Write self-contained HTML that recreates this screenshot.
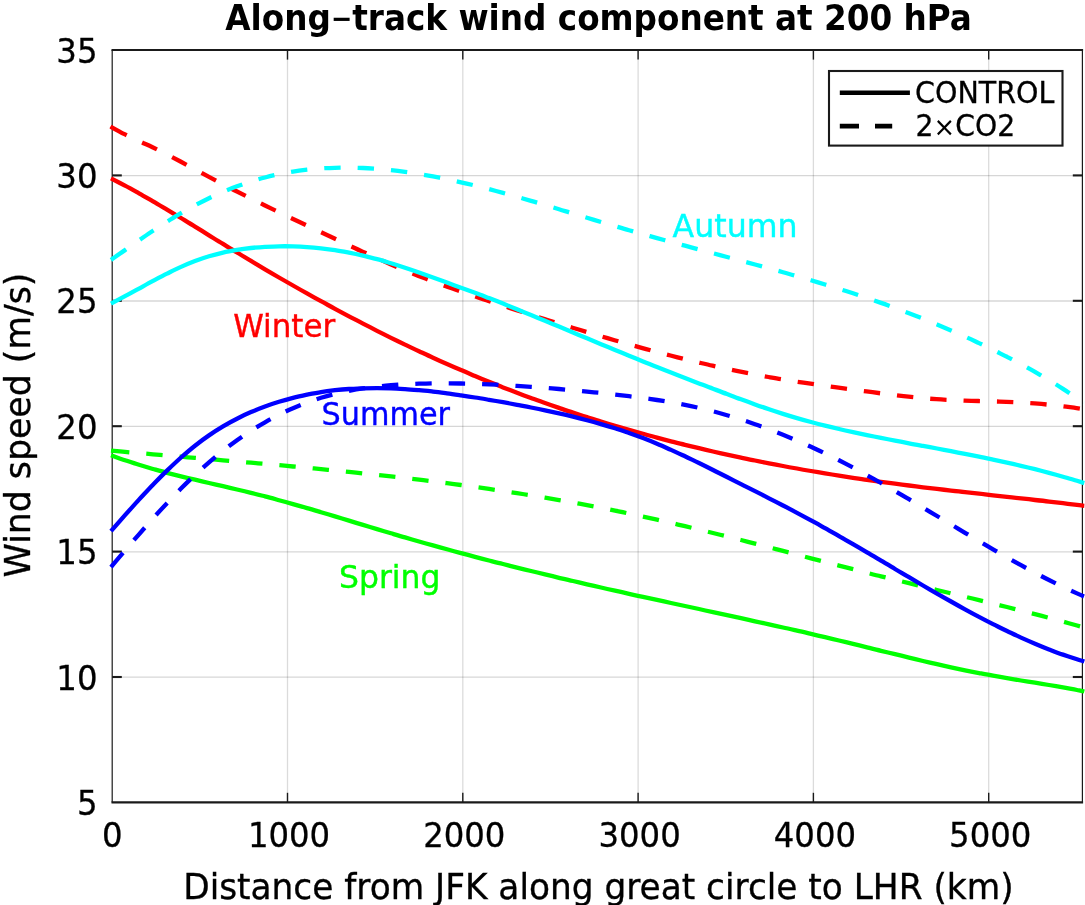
<!DOCTYPE html>
<html lang="en"><head><meta charset="utf-8"><title>Along-track wind component at 200 hPa</title>
<style>
html,body{margin:0;padding:0;background:#fff;}
body{width:1085px;height:905px;overflow:hidden;}
svg{display:block;}
text{font-family:"DejaVu Sans","Liberation Sans",sans-serif;}
.cond{font-family:"DejaVu Sans Condensed","DejaVu Sans","Liberation Sans",sans-serif;font-stretch:condensed;}
.tick{font-size:34px;fill:#000;stroke:#000;stroke-width:0.3;}
.lab{font-size:36.3px;fill:#000;stroke:#000;stroke-width:0.35;}
.ttl{font-size:35.9px;font-weight:bold;fill:#000;}
.leg{font-size:29.5px;fill:#000;stroke:#000;stroke-width:0.3;}
.sea{font-size:32px;stroke-width:0.4;}
.grid line{stroke:#000;stroke-width:1.3;}
.grid .v{stroke-opacity:0.14;}
.grid .h{stroke-opacity:0.16;}
.ax line{stroke:#1a1a1a;}
.crv path{fill:none;stroke-width:4.3;stroke-linejoin:round;}
.dash{stroke-dasharray:18.4 17.0 16.4 17.0 16.4 17.0 16.4 17.0 16.4 17.0 16.4 17.0 16.4 17.0 16.4 17.0 16.4 17.0 16.4 17.0 16.4 17.0 16.4 17.0 16.4 17.0 16.4 17.0 16.4 17.0 16.4 17.0 16.4 17.0 16.4 17.0 16.4 17.0 16.4 17.0 16.4 17.0 16.4 17.0 16.4 17.0 16.4 17.0 16.4 17.0 16.4 17.0 16.4 17.0 16.4 17.0 16.4 17.0 16.4 17.0 16.4 17.0 16.4 17.0 16.4 17.0 16.4 17.0 16.4 17.0 16.4 17.0 16.4 17.0 16.4 17.0 16.4 17.0 16.4 17.0 16.4 17.0 16.4 17.0 16.4 17.0 16.4 17.0 16.4 17.0 16.4 17.0;}
</style></head><body>
<svg width="1085" height="905" viewBox="0 0 1085 905">
<rect x="0" y="0" width="1085" height="905" fill="#fff"/>
<g class="grid">
<line class="v" x1="287.5" y1="50.0" x2="287.5" y2="802.4"/>
<line class="v" x1="462.8" y1="50.0" x2="462.8" y2="802.4"/>
<line class="v" x1="638.1" y1="50.0" x2="638.1" y2="802.4"/>
<line class="v" x1="813.4" y1="50.0" x2="813.4" y2="802.4"/>
<line class="v" x1="988.7" y1="50.0" x2="988.7" y2="802.4"/>
<line class="h" x1="112.2" y1="175.6" x2="1082.4" y2="175.6"/>
<line class="h" x1="112.2" y1="301.0" x2="1082.4" y2="301.0"/>
<line class="h" x1="112.2" y1="426.4" x2="1082.4" y2="426.4"/>
<line class="h" x1="112.2" y1="551.8" x2="1082.4" y2="551.8"/>
<line class="h" x1="112.2" y1="677.2" x2="1082.4" y2="677.2"/>
</g>
<g class="ax">
<line x1="111.5" y1="50.0" x2="1083.1" y2="50.0" stroke-width="2.1"/>
<line x1="111.5" y1="802.4" x2="1083.1" y2="802.4" stroke-width="2.1"/>
<line x1="112.2" y1="50.0" x2="112.2" y2="802.4" stroke-width="1.2" stroke="#404040"/>
<line x1="1082.4" y1="50.0" x2="1082.4" y2="802.4" stroke-width="1.2" stroke="#404040"/>
<line x1="287.5" y1="802.4" x2="287.5" y2="792.8" stroke-width="1.4"/>
<line x1="287.5" y1="50.0" x2="287.5" y2="59.6" stroke-width="1.4"/>
<line x1="462.8" y1="802.4" x2="462.8" y2="792.8" stroke-width="1.4"/>
<line x1="462.8" y1="50.0" x2="462.8" y2="59.6" stroke-width="1.4"/>
<line x1="638.1" y1="802.4" x2="638.1" y2="792.8" stroke-width="1.4"/>
<line x1="638.1" y1="50.0" x2="638.1" y2="59.6" stroke-width="1.4"/>
<line x1="813.4" y1="802.4" x2="813.4" y2="792.8" stroke-width="1.4"/>
<line x1="813.4" y1="50.0" x2="813.4" y2="59.6" stroke-width="1.4"/>
<line x1="988.7" y1="802.4" x2="988.7" y2="792.8" stroke-width="1.4"/>
<line x1="988.7" y1="50.0" x2="988.7" y2="59.6" stroke-width="1.4"/>
<line x1="112.2" y1="175.4" x2="121.8" y2="175.4" stroke-width="2.1"/>
<line x1="1082.4" y1="175.4" x2="1072.8" y2="175.4" stroke-width="2.1"/>
<line x1="112.2" y1="300.8" x2="121.8" y2="300.8" stroke-width="2.1"/>
<line x1="1082.4" y1="300.8" x2="1072.8" y2="300.8" stroke-width="2.1"/>
<line x1="112.2" y1="426.2" x2="121.8" y2="426.2" stroke-width="2.1"/>
<line x1="1082.4" y1="426.2" x2="1072.8" y2="426.2" stroke-width="2.1"/>
<line x1="112.2" y1="551.6" x2="121.8" y2="551.6" stroke-width="2.1"/>
<line x1="1082.4" y1="551.6" x2="1072.8" y2="551.6" stroke-width="2.1"/>
<line x1="112.2" y1="677.0" x2="121.8" y2="677.0" stroke-width="2.1"/>
<line x1="1082.4" y1="677.0" x2="1072.8" y2="677.0" stroke-width="2.1"/>
</g>
<g class="crv">
<path d="M111.0 178.4C113.3 179.6 120.3 183.2 125.0 185.7C129.7 188.1 134.3 190.7 139.0 193.3C143.7 195.9 148.3 198.6 153.0 201.3C157.7 204.0 162.3 206.8 167.0 209.6C171.7 212.4 176.3 215.2 181.0 218.0C185.7 220.9 190.3 223.8 195.0 226.6C199.7 229.5 204.3 232.4 209.0 235.3C213.7 238.2 218.3 241.1 223.0 243.9C227.7 246.8 232.3 249.7 237.0 252.5C241.7 255.3 246.3 258.2 251.0 260.9C255.7 263.7 260.3 266.5 265.0 269.3C269.7 272.0 274.3 274.7 279.0 277.5C283.7 280.2 288.3 282.8 293.0 285.5C297.7 288.2 302.3 290.8 307.0 293.4C311.7 296.0 316.3 298.6 321.0 301.2C325.7 303.7 330.3 306.3 335.0 308.8C339.7 311.3 344.3 313.8 349.0 316.3C353.7 318.7 358.3 321.2 363.0 323.6C367.7 326.0 372.3 328.4 377.0 330.8C381.7 333.1 386.3 335.4 391.0 337.8C395.7 340.1 400.3 342.3 405.0 344.6C409.7 346.8 414.3 349.1 419.0 351.2C423.7 353.4 428.3 355.6 433.0 357.7C437.7 359.9 442.3 362.0 447.0 364.0C451.7 366.1 456.3 368.1 461.0 370.1C465.7 372.2 470.3 374.1 475.0 376.1C479.7 378.0 484.3 379.9 489.0 381.8C493.7 383.7 498.3 385.6 503.0 387.4C507.7 389.2 512.3 391.0 517.0 392.8C521.7 394.5 526.3 396.3 531.0 398.0C535.7 399.7 540.3 401.4 545.0 403.0C549.7 404.7 554.3 406.3 559.0 407.9C563.7 409.5 568.3 411.1 573.0 412.6C577.7 414.1 582.3 415.7 587.0 417.1C591.7 418.6 596.3 420.1 601.0 421.5C605.7 423.0 610.3 424.4 615.0 425.8C619.7 427.2 624.3 428.5 629.0 429.9C633.7 431.2 638.3 432.5 643.0 433.8C647.7 435.1 652.3 436.4 657.0 437.6C661.7 438.9 666.3 440.1 671.0 441.3C675.7 442.5 680.3 443.7 685.0 444.8C689.7 446.0 694.3 447.1 699.0 448.2C703.7 449.3 708.3 450.4 713.0 451.5C717.7 452.5 722.3 453.6 727.0 454.6C731.7 455.6 736.3 456.6 741.0 457.6C745.7 458.6 750.3 459.6 755.0 460.5C759.7 461.5 764.3 462.4 769.0 463.3C773.7 464.2 778.3 465.1 783.0 466.0C787.7 466.9 792.3 467.7 797.0 468.5C801.7 469.4 806.3 470.2 811.0 471.0C815.7 471.8 820.3 472.6 825.0 473.4C829.7 474.1 834.3 474.9 839.0 475.6C843.7 476.4 848.3 477.1 853.0 477.8C857.7 478.5 862.3 479.2 867.0 479.8C871.7 480.5 876.3 481.2 881.0 481.8C885.7 482.5 890.3 483.1 895.0 483.7C899.7 484.3 904.3 484.9 909.0 485.5C913.7 486.1 918.3 486.7 923.0 487.3C927.7 487.8 932.3 488.4 937.0 488.9C941.7 489.5 946.3 490.0 951.0 490.6C955.7 491.1 960.3 491.6 965.0 492.2C969.7 492.7 974.3 493.2 979.0 493.7C983.7 494.3 988.3 494.8 993.0 495.3C997.7 495.8 1002.3 496.3 1007.0 496.8C1011.7 497.4 1016.3 497.9 1021.0 498.4C1025.7 498.9 1030.3 499.4 1035.0 500.0C1039.7 500.5 1044.3 501.0 1049.0 501.6C1053.7 502.1 1058.3 502.7 1063.0 503.2C1067.7 503.8 1073.5 504.5 1077.0 504.9C1080.5 505.4 1083.1 505.7 1084.3 505.8" stroke="#ff0000"/>
<path d="M110.5 126.5C112.8 127.8 119.8 131.8 124.5 134.2C129.2 136.6 133.8 138.6 138.5 140.8C143.2 143.0 147.8 145.0 152.5 147.2C157.2 149.5 161.8 151.8 166.5 154.2C171.2 156.6 175.8 159.0 180.5 161.5C185.2 164.0 189.8 166.6 194.5 169.1C199.2 171.6 203.8 174.2 208.5 176.6C213.2 179.1 217.8 181.6 222.5 184.0C227.2 186.5 231.8 188.9 236.5 191.2C241.2 193.6 245.8 196.0 250.5 198.3C255.2 200.6 259.8 202.9 264.5 205.2C269.2 207.5 273.8 209.7 278.5 212.0C283.2 214.2 287.8 216.5 292.5 218.7C297.2 220.9 301.8 223.1 306.5 225.3C311.2 227.6 315.8 229.8 320.5 232.0C325.2 234.2 329.8 236.3 334.5 238.5C339.2 240.7 343.8 242.9 348.5 245.1C353.2 247.3 357.8 249.5 362.5 251.6C367.2 253.7 371.8 255.9 376.5 258.0C381.2 260.1 385.8 262.1 390.5 264.2C395.2 266.2 399.8 268.2 404.5 270.2C409.2 272.1 413.8 274.0 418.5 275.9C423.2 277.7 427.8 279.5 432.5 281.3C437.2 283.0 441.8 284.8 446.5 286.4C451.2 288.1 455.8 289.8 460.5 291.4C465.2 293.0 469.8 294.6 474.5 296.2C479.2 297.8 483.8 299.4 488.5 300.9C493.2 302.5 497.8 304.0 502.5 305.6C507.2 307.1 511.8 308.6 516.5 310.1C521.2 311.6 525.8 313.1 530.5 314.6C535.2 316.1 539.8 317.6 544.5 319.1C549.2 320.5 553.8 322.0 558.5 323.4C563.2 324.9 567.8 326.3 572.5 327.7C577.2 329.1 581.8 330.5 586.5 331.9C591.2 333.3 595.8 334.7 600.5 336.1C605.2 337.5 609.8 338.8 614.5 340.2C619.2 341.5 623.8 342.8 628.5 344.2C633.2 345.5 637.8 346.8 642.5 348.1C647.2 349.3 651.8 350.6 656.5 351.9C661.2 353.1 665.8 354.3 670.5 355.5C675.2 356.7 679.8 357.9 684.5 359.1C689.2 360.3 693.8 361.4 698.5 362.5C703.2 363.6 707.8 364.7 712.5 365.7C717.2 366.8 721.8 367.8 726.5 368.8C731.2 369.8 735.8 370.8 740.5 371.7C745.2 372.7 749.8 373.6 754.5 374.4C759.2 375.3 763.8 376.1 768.5 377.0C773.2 377.8 777.8 378.6 782.5 379.3C787.2 380.1 791.8 380.9 796.5 381.6C801.2 382.3 805.8 383.0 810.5 383.7C815.2 384.4 819.8 385.1 824.5 385.7C829.2 386.4 833.8 387.1 838.5 387.7C843.2 388.3 847.8 389.0 852.5 389.6C857.2 390.2 861.8 390.8 866.5 391.4C871.2 392.1 875.8 392.7 880.5 393.3C885.2 393.9 889.8 394.5 894.5 395.0C899.2 395.6 903.8 396.2 908.5 396.7C913.2 397.2 917.8 397.7 922.5 398.1C927.2 398.5 931.8 398.9 936.5 399.2C941.2 399.6 945.8 399.8 950.5 400.0C955.2 400.3 959.8 400.4 964.5 400.6C969.2 400.7 973.8 400.9 978.5 401.0C983.2 401.1 987.8 401.2 992.5 401.4C997.2 401.5 1001.8 401.7 1006.5 401.8C1011.2 402.0 1015.8 402.3 1020.5 402.5C1025.2 402.8 1029.8 403.1 1034.5 403.4C1039.2 403.8 1043.8 404.2 1048.5 404.7C1053.2 405.1 1057.8 405.6 1062.5 406.2C1067.2 406.8 1073.2 407.7 1076.5 408.1C1079.8 408.6 1081.1 408.8 1082.0 409.0" stroke="#ff0000" class="dash"/>
<path d="M111.0 455.2C113.3 456.0 120.3 458.6 125.0 460.2C129.7 461.8 134.3 463.4 139.0 464.8C143.7 466.3 148.3 467.6 153.0 469.0C157.7 470.3 162.3 471.6 167.0 472.8C171.7 474.0 176.3 475.2 181.0 476.4C185.7 477.5 190.3 478.6 195.0 479.7C199.7 480.8 204.3 481.9 209.0 483.0C213.7 484.1 218.3 485.1 223.0 486.2C227.7 487.3 232.3 488.4 237.0 489.5C241.7 490.6 246.3 491.7 251.0 492.9C255.7 494.0 260.3 495.2 265.0 496.4C269.7 497.6 274.3 498.9 279.0 500.2C283.7 501.4 288.3 502.7 293.0 504.1C297.7 505.4 302.3 506.7 307.0 508.1C311.7 509.4 316.3 510.8 321.0 512.2C325.7 513.6 330.3 515.0 335.0 516.4C339.7 517.8 344.3 519.2 349.0 520.6C353.7 522.1 358.3 523.5 363.0 524.9C367.7 526.3 372.3 527.7 377.0 529.1C381.7 530.5 386.3 531.9 391.0 533.3C395.7 534.7 400.3 536.1 405.0 537.4C409.7 538.8 414.3 540.1 419.0 541.5C423.7 542.8 428.3 544.1 433.0 545.4C437.7 546.7 442.3 548.0 447.0 549.3C451.7 550.6 456.3 551.8 461.0 553.1C465.7 554.3 470.3 555.6 475.0 556.8C479.7 558.0 484.3 559.2 489.0 560.5C493.7 561.7 498.3 562.9 503.0 564.0C507.7 565.2 512.3 566.4 517.0 567.6C521.7 568.7 526.3 569.9 531.0 571.0C535.7 572.2 540.3 573.3 545.0 574.4C549.7 575.5 554.3 576.6 559.0 577.8C563.7 578.9 568.3 580.0 573.0 581.0C577.7 582.1 582.3 583.2 587.0 584.3C591.7 585.4 596.3 586.4 601.0 587.5C605.7 588.6 610.3 589.6 615.0 590.6C619.7 591.7 624.3 592.7 629.0 593.8C633.7 594.8 638.3 595.8 643.0 596.9C647.7 597.9 652.3 598.9 657.0 599.9C661.7 600.9 666.3 602.0 671.0 603.0C675.7 604.0 680.3 605.0 685.0 606.0C689.7 607.0 694.3 608.0 699.0 609.0C703.7 610.1 708.3 611.1 713.0 612.1C717.7 613.1 722.3 614.1 727.0 615.1C731.7 616.1 736.3 617.2 741.0 618.2C745.7 619.2 750.3 620.2 755.0 621.3C759.7 622.3 764.3 623.3 769.0 624.4C773.7 625.4 778.3 626.4 783.0 627.5C787.7 628.5 792.3 629.6 797.0 630.7C801.7 631.7 806.3 632.8 811.0 633.9C815.7 635.0 820.3 636.1 825.0 637.2C829.7 638.3 834.3 639.4 839.0 640.5C843.7 641.6 848.3 642.8 853.0 643.9C857.7 645.1 862.3 646.2 867.0 647.3C871.7 648.5 876.3 649.7 881.0 650.8C885.7 651.9 890.3 653.1 895.0 654.2C899.7 655.4 904.3 656.5 909.0 657.6C913.7 658.8 918.3 659.9 923.0 661.0C927.7 662.1 932.3 663.1 937.0 664.2C941.7 665.3 946.3 666.3 951.0 667.3C955.7 668.3 960.3 669.3 965.0 670.3C969.7 671.3 974.3 672.2 979.0 673.1C983.7 674.0 988.3 674.9 993.0 675.7C997.7 676.6 1002.3 677.4 1007.0 678.1C1011.7 678.9 1016.3 679.7 1021.0 680.5C1025.7 681.2 1030.3 682.0 1035.0 682.7C1039.7 683.5 1044.3 684.2 1049.0 685.0C1053.7 685.8 1058.3 686.6 1063.0 687.4C1067.7 688.3 1073.5 689.3 1077.0 690.0C1080.5 690.7 1083.1 691.2 1084.3 691.5" stroke="#00ff00"/>
<path d="M111.0 450.7C113.3 450.9 120.3 451.5 125.0 451.9C129.7 452.3 134.3 452.7 139.0 453.1C143.7 453.5 148.3 453.9 153.0 454.3C157.7 454.7 162.3 455.1 167.0 455.5C171.7 455.9 176.3 456.3 181.0 456.7C185.7 457.1 190.3 457.5 195.0 457.9C199.7 458.3 204.3 458.7 209.0 459.1C213.7 459.5 218.3 459.9 223.0 460.3C227.7 460.7 232.3 461.1 237.0 461.5C241.7 461.9 246.3 462.3 251.0 462.7C255.7 463.1 260.3 463.5 265.0 463.9C269.7 464.4 274.3 464.8 279.0 465.2C283.7 465.6 288.3 466.0 293.0 466.5C297.7 466.9 302.3 467.3 307.0 467.8C311.7 468.2 316.3 468.7 321.0 469.1C325.7 469.6 330.3 470.0 335.0 470.5C339.7 471.0 344.3 471.4 349.0 471.9C353.7 472.4 358.3 472.9 363.0 473.4C367.7 473.9 372.3 474.4 377.0 474.9C381.7 475.4 386.3 475.9 391.0 476.4C395.7 476.9 400.3 477.5 405.0 478.0C409.7 478.6 414.3 479.1 419.0 479.7C423.7 480.2 428.3 480.8 433.0 481.4C437.7 482.0 442.3 482.6 447.0 483.2C451.7 483.8 456.3 484.4 461.0 485.0C465.7 485.6 470.3 486.3 475.0 486.9C479.7 487.6 484.3 488.2 489.0 488.9C493.7 489.6 498.3 490.3 503.0 491.0C507.7 491.7 512.3 492.4 517.0 493.1C521.7 493.9 526.3 494.6 531.0 495.4C535.7 496.1 540.3 496.9 545.0 497.7C549.7 498.5 554.3 499.3 559.0 500.1C563.7 500.9 568.3 501.7 573.0 502.6C577.7 503.4 582.3 504.3 587.0 505.2C591.7 506.1 596.3 507.0 601.0 507.9C605.7 508.8 610.3 509.7 615.0 510.7C619.7 511.6 624.3 512.6 629.0 513.6C633.7 514.6 638.3 515.6 643.0 516.6C647.7 517.6 652.3 518.7 657.0 519.7C661.7 520.8 666.3 521.9 671.0 522.9C675.7 524.0 680.3 525.1 685.0 526.2C689.7 527.3 694.3 528.5 699.0 529.6C703.7 530.7 708.3 531.9 713.0 533.0C717.7 534.2 722.3 535.3 727.0 536.5C731.7 537.7 736.3 538.9 741.0 540.0C745.7 541.2 750.3 542.4 755.0 543.6C759.7 544.8 764.3 546.1 769.0 547.3C773.7 548.5 778.3 549.7 783.0 550.9C787.7 552.1 792.3 553.4 797.0 554.6C801.7 555.8 806.3 557.1 811.0 558.3C815.7 559.5 820.3 560.7 825.0 561.9C829.7 563.2 834.3 564.4 839.0 565.6C843.7 566.8 848.3 568.0 853.0 569.2C857.7 570.4 862.3 571.6 867.0 572.8C871.7 574.0 876.3 575.2 881.0 576.3C885.7 577.5 890.3 578.6 895.0 579.8C899.7 580.9 904.3 582.1 909.0 583.2C913.7 584.4 918.3 585.5 923.0 586.6C927.7 587.7 932.3 588.9 937.0 590.0C941.7 591.1 946.3 592.2 951.0 593.4C955.7 594.5 960.3 595.6 965.0 596.7C969.7 597.9 974.3 599.0 979.0 600.1C983.7 601.3 988.3 602.4 993.0 603.6C997.7 604.7 1002.3 605.9 1007.0 607.0C1011.7 608.2 1016.3 609.4 1021.0 610.6C1025.7 611.8 1030.3 613.0 1035.0 614.2C1039.7 615.4 1044.3 616.6 1049.0 617.9C1053.7 619.1 1058.3 620.4 1063.0 621.6C1067.7 622.9 1073.8 624.6 1077.0 625.5C1080.2 626.4 1081.2 626.7 1082.0 627.0" stroke="#00ff00" class="dash"/>
<path d="M111.0 531.2C113.3 528.5 120.3 520.5 125.0 515.2C129.7 510.0 134.3 504.7 139.0 499.6C143.7 494.6 148.3 489.5 153.0 484.7C157.7 479.9 162.3 475.1 167.0 470.6C171.7 466.1 176.3 461.7 181.0 457.5C185.7 453.4 190.3 449.4 195.0 445.7C199.7 442.0 204.3 438.6 209.0 435.4C213.7 432.1 218.3 429.2 223.0 426.4C227.7 423.6 232.3 421.0 237.0 418.7C241.7 416.3 246.3 414.1 251.0 412.1C255.7 410.0 260.3 408.2 265.0 406.5C269.7 404.8 274.3 403.2 279.0 401.8C283.7 400.3 288.3 399.0 293.0 397.8C297.7 396.6 302.3 395.6 307.0 394.6C311.7 393.7 316.3 392.8 321.0 392.1C325.7 391.4 330.3 390.8 335.0 390.2C339.7 389.7 344.3 389.3 349.0 389.0C353.7 388.7 358.3 388.4 363.0 388.3C367.7 388.1 372.3 388.1 377.0 388.1C381.7 388.1 386.3 388.2 391.0 388.4C395.7 388.5 400.3 388.8 405.0 389.1C409.7 389.4 414.3 389.8 419.0 390.2C423.7 390.6 428.3 391.1 433.0 391.6C437.7 392.1 442.3 392.7 447.0 393.3C451.7 393.9 456.3 394.6 461.0 395.3C465.7 396.0 470.3 396.7 475.0 397.5C479.7 398.2 484.3 399.0 489.0 399.8C493.7 400.6 498.3 401.4 503.0 402.2C507.7 403.1 512.3 403.9 517.0 404.8C521.7 405.7 526.3 406.5 531.0 407.5C535.7 408.4 540.3 409.3 545.0 410.3C549.7 411.3 554.3 412.3 559.0 413.3C563.7 414.4 568.3 415.5 573.0 416.6C577.7 417.7 582.3 418.9 587.0 420.2C591.7 421.4 596.3 422.7 601.0 424.1C605.7 425.4 610.3 426.8 615.0 428.3C619.7 429.8 624.3 431.4 629.0 433.0C633.7 434.7 638.3 436.4 643.0 438.1C647.7 439.9 652.3 441.8 657.0 443.8C661.7 445.7 666.3 447.8 671.0 449.9C675.7 451.9 680.3 454.1 685.0 456.3C689.7 458.5 694.3 460.8 699.0 463.0C703.7 465.3 708.3 467.6 713.0 470.0C717.7 472.3 722.3 474.7 727.0 477.0C731.7 479.4 736.3 481.7 741.0 484.1C745.7 486.4 750.3 488.8 755.0 491.1C759.7 493.5 764.3 495.9 769.0 498.3C773.7 500.7 778.3 503.1 783.0 505.5C787.7 507.9 792.3 510.4 797.0 512.8C801.7 515.3 806.3 517.8 811.0 520.4C815.7 522.9 820.3 525.5 825.0 528.1C829.7 530.7 834.3 533.4 839.0 536.1C843.7 538.7 848.3 541.5 853.0 544.2C857.7 546.9 862.3 549.6 867.0 552.4C871.7 555.1 876.3 557.9 881.0 560.7C885.7 563.4 890.3 566.2 895.0 569.0C899.7 571.7 904.3 574.5 909.0 577.2C913.7 580.0 918.3 582.7 923.0 585.5C927.7 588.2 932.3 590.9 937.0 593.6C941.7 596.3 946.3 598.9 951.0 601.5C955.7 604.2 960.3 606.8 965.0 609.3C969.7 611.9 974.3 614.4 979.0 616.8C983.7 619.3 988.3 621.7 993.0 624.1C997.7 626.4 1002.3 628.8 1007.0 631.0C1011.7 633.3 1016.3 635.4 1021.0 637.6C1025.7 639.7 1030.3 641.7 1035.0 643.7C1039.7 645.7 1044.3 647.6 1049.0 649.4C1053.7 651.2 1058.3 653.0 1063.0 654.6C1067.7 656.2 1073.5 658.1 1077.0 659.3C1080.5 660.4 1083.1 661.1 1084.3 661.5" stroke="#0000ff"/>
<path d="M111.0 567.1C113.3 564.3 120.3 556.0 125.0 550.6C129.7 545.1 134.3 539.7 139.0 534.3C143.7 528.9 148.3 523.6 153.0 518.4C157.7 513.2 162.3 508.1 167.0 503.2C171.7 498.2 176.3 493.3 181.0 488.6C185.7 483.9 190.3 479.4 195.0 475.0C199.7 470.6 204.3 466.4 209.0 462.3C213.7 458.3 218.3 454.4 223.0 450.7C227.7 447.1 232.3 443.6 237.0 440.2C241.7 436.9 246.3 433.7 251.0 430.7C255.7 427.8 260.3 424.9 265.0 422.3C269.7 419.6 274.3 417.1 279.0 414.8C283.7 412.4 288.3 410.2 293.0 408.2C297.7 406.2 302.3 404.3 307.0 402.6C311.7 400.8 316.3 399.3 321.0 397.8C325.7 396.4 330.3 395.1 335.0 393.9C339.7 392.7 344.3 391.7 349.0 390.8C353.7 389.9 358.3 389.1 363.0 388.4C367.7 387.7 372.3 387.1 377.0 386.6C381.7 386.0 386.3 385.6 391.0 385.2C395.7 384.9 400.3 384.6 405.0 384.3C409.7 384.1 414.3 383.9 419.0 383.7C423.7 383.6 428.3 383.5 433.0 383.4C437.7 383.3 442.3 383.3 447.0 383.3C451.7 383.3 456.3 383.4 461.0 383.5C465.7 383.5 470.3 383.7 475.0 383.8C479.7 384.0 484.3 384.1 489.0 384.3C493.7 384.5 498.3 384.8 503.0 385.0C507.7 385.3 512.3 385.6 517.0 385.9C521.7 386.2 526.3 386.5 531.0 386.8C535.7 387.1 540.3 387.5 545.0 387.8C549.7 388.2 554.3 388.6 559.0 389.0C563.7 389.4 568.3 389.8 573.0 390.2C577.7 390.7 582.3 391.1 587.0 391.6C591.7 392.1 596.3 392.5 601.0 393.0C605.7 393.5 610.3 394.1 615.0 394.6C619.7 395.1 624.3 395.7 629.0 396.2C633.7 396.8 638.3 397.4 643.0 398.0C647.7 398.6 652.3 399.3 657.0 400.0C661.7 400.7 666.3 401.4 671.0 402.3C675.7 403.1 680.3 403.9 685.0 404.9C689.7 405.8 694.3 406.8 699.0 407.9C703.7 409.0 708.3 410.1 713.0 411.3C717.7 412.5 722.3 413.8 727.0 415.2C731.7 416.6 736.3 418.0 741.0 419.5C745.7 421.0 750.3 422.6 755.0 424.2C759.7 425.8 764.3 427.5 769.0 429.3C773.7 431.0 778.3 432.9 783.0 434.7C787.7 436.6 792.3 438.6 797.0 440.6C801.7 442.6 806.3 444.7 811.0 446.8C815.7 449.0 820.3 451.1 825.0 453.4C829.7 455.7 834.3 458.0 839.0 460.3C843.7 462.7 848.3 465.1 853.0 467.6C857.7 470.1 862.3 472.6 867.0 475.2C871.7 477.7 876.3 480.3 881.0 483.0C885.7 485.6 890.3 488.3 895.0 491.0C899.7 493.7 904.3 496.5 909.0 499.2C913.7 502.0 918.3 504.8 923.0 507.6C927.7 510.4 932.3 513.2 937.0 516.0C941.7 518.8 946.3 521.6 951.0 524.4C955.7 527.2 960.3 530.0 965.0 532.8C969.7 535.6 974.3 538.4 979.0 541.1C983.7 543.9 988.3 546.6 993.0 549.3C997.7 552.0 1002.3 554.7 1007.0 557.4C1011.7 560.0 1016.3 562.6 1021.0 565.2C1025.7 567.8 1030.3 570.3 1035.0 572.8C1039.7 575.2 1044.3 577.7 1049.0 580.0C1053.7 582.4 1058.3 584.7 1063.0 586.9C1067.7 589.2 1073.5 591.8 1077.0 593.4C1080.5 595.0 1082.8 596.0 1084.0 596.5" stroke="#0000ff" class="dash"/>
<path d="M111.0 303.6C113.3 302.4 120.3 298.7 125.0 296.2C129.7 293.7 134.3 291.1 139.0 288.6C143.7 286.0 148.3 283.4 153.0 280.9C157.7 278.4 162.3 275.9 167.0 273.6C171.7 271.3 176.3 269.0 181.0 266.9C185.7 264.7 190.3 262.8 195.0 261.0C199.7 259.2 204.3 257.6 209.0 256.2C213.7 254.9 218.3 253.7 223.0 252.6C227.7 251.5 232.3 250.7 237.0 249.9C241.7 249.1 246.3 248.5 251.0 248.0C255.7 247.5 260.3 247.1 265.0 246.8C269.7 246.6 274.3 246.4 279.0 246.3C283.7 246.2 288.3 246.2 293.0 246.4C297.7 246.5 302.3 246.7 307.0 247.1C311.7 247.4 316.3 247.8 321.0 248.3C325.7 248.9 330.3 249.5 335.0 250.2C339.7 250.9 344.3 251.8 349.0 252.7C353.7 253.6 358.3 254.6 363.0 255.7C367.7 256.8 372.3 258.0 377.0 259.2C381.7 260.5 386.3 261.9 391.0 263.3C395.7 264.7 400.3 266.2 405.0 267.8C409.7 269.3 414.3 270.9 419.0 272.6C423.7 274.2 428.3 275.9 433.0 277.5C437.7 279.2 442.3 280.9 447.0 282.6C451.7 284.3 456.3 286.0 461.0 287.7C465.7 289.4 470.3 291.1 475.0 292.8C479.7 294.5 484.3 296.3 489.0 298.1C493.7 299.9 498.3 301.7 503.0 303.6C507.7 305.5 512.3 307.4 517.0 309.3C521.7 311.2 526.3 313.1 531.0 315.0C535.7 316.9 540.3 318.9 545.0 320.8C549.7 322.7 554.3 324.7 559.0 326.6C563.7 328.6 568.3 330.5 573.0 332.5C577.7 334.4 582.3 336.4 587.0 338.3C591.7 340.3 596.3 342.2 601.0 344.2C605.7 346.1 610.3 348.1 615.0 350.0C619.7 351.9 624.3 353.8 629.0 355.7C633.7 357.6 638.3 359.5 643.0 361.4C647.7 363.3 652.3 365.2 657.0 367.0C661.7 368.9 666.3 370.7 671.0 372.5C675.7 374.4 680.3 376.2 685.0 378.0C689.7 379.8 694.3 381.6 699.0 383.4C703.7 385.2 708.3 387.0 713.0 388.7C717.7 390.5 722.3 392.3 727.0 394.0C731.7 395.8 736.3 397.6 741.0 399.3C745.7 401.0 750.3 402.7 755.0 404.4C759.7 406.1 764.3 407.7 769.0 409.3C773.7 410.9 778.3 412.4 783.0 413.9C787.7 415.4 792.3 416.8 797.0 418.1C801.7 419.5 806.3 420.8 811.0 422.0C815.7 423.3 820.3 424.5 825.0 425.6C829.7 426.8 834.3 427.9 839.0 429.0C843.7 430.1 848.3 431.1 853.0 432.1C857.7 433.1 862.3 434.1 867.0 435.1C871.7 436.0 876.3 437.0 881.0 437.9C885.7 438.8 890.3 439.7 895.0 440.6C899.7 441.5 904.3 442.4 909.0 443.3C913.7 444.1 918.3 445.0 923.0 445.9C927.7 446.8 932.3 447.6 937.0 448.5C941.7 449.4 946.3 450.3 951.0 451.2C955.7 452.1 960.3 453.0 965.0 453.9C969.7 454.8 974.3 455.7 979.0 456.7C983.7 457.6 988.3 458.6 993.0 459.6C997.7 460.6 1002.3 461.6 1007.0 462.6C1011.7 463.7 1016.3 464.7 1021.0 465.8C1025.7 466.9 1030.3 468.1 1035.0 469.2C1039.7 470.4 1044.3 471.6 1049.0 472.8C1053.7 474.1 1058.3 475.4 1063.0 476.7C1067.7 478.0 1073.5 479.8 1077.0 480.8C1080.5 481.9 1083.1 482.7 1084.3 483.1" stroke="#00ffff"/>
<path d="M111.0 259.9C113.3 258.3 120.3 253.3 125.0 250.1C129.7 246.8 134.3 243.5 139.0 240.3C143.7 237.1 148.3 233.9 153.0 230.8C157.7 227.7 162.3 224.6 167.0 221.7C171.7 218.8 176.3 215.9 181.0 213.2C185.7 210.5 190.3 207.9 195.0 205.4C199.7 202.9 204.3 200.5 209.0 198.2C213.7 196.0 218.3 193.9 223.0 191.9C227.7 189.9 232.3 188.0 237.0 186.3C241.7 184.6 246.3 183.0 251.0 181.5C255.7 180.0 260.3 178.7 265.0 177.5C269.7 176.3 274.3 175.2 279.0 174.2C283.7 173.2 288.3 172.4 293.0 171.6C297.7 170.9 302.3 170.3 307.0 169.7C311.7 169.2 316.3 168.8 321.0 168.4C325.7 168.1 330.3 167.9 335.0 167.8C339.7 167.6 344.3 167.6 349.0 167.6C353.7 167.6 358.3 167.8 363.0 168.0C367.7 168.2 372.3 168.5 377.0 168.8C381.7 169.2 386.3 169.6 391.0 170.1C395.7 170.6 400.3 171.2 405.0 171.9C409.7 172.5 414.3 173.2 419.0 174.0C423.7 174.7 428.3 175.5 433.0 176.4C437.7 177.3 442.3 178.2 447.0 179.2C451.7 180.2 456.3 181.2 461.0 182.3C465.7 183.3 470.3 184.4 475.0 185.6C479.7 186.7 484.3 187.9 489.0 189.1C493.7 190.4 498.3 191.6 503.0 192.9C507.7 194.2 512.3 195.5 517.0 196.8C521.7 198.1 526.3 199.5 531.0 200.9C535.7 202.2 540.3 203.6 545.0 205.0C549.7 206.4 554.3 207.8 559.0 209.2C563.7 210.6 568.3 212.1 573.0 213.5C577.7 214.9 582.3 216.3 587.0 217.7C591.7 219.1 596.3 220.6 601.0 222.0C605.7 223.4 610.3 224.8 615.0 226.1C619.7 227.5 624.3 228.9 629.0 230.2C633.7 231.6 638.3 232.9 643.0 234.2C647.7 235.5 652.3 236.8 657.0 238.1C661.7 239.4 666.3 240.7 671.0 242.0C675.7 243.2 680.3 244.5 685.0 245.7C689.7 247.0 694.3 248.2 699.0 249.5C703.7 250.7 708.3 252.0 713.0 253.2C717.7 254.5 722.3 255.7 727.0 257.0C731.7 258.2 736.3 259.4 741.0 260.7C745.7 262.0 750.3 263.2 755.0 264.5C759.7 265.8 764.3 267.0 769.0 268.3C773.7 269.6 778.3 270.9 783.0 272.2C787.7 273.5 792.3 274.9 797.0 276.2C801.7 277.6 806.3 278.9 811.0 280.3C815.7 281.7 820.3 283.1 825.0 284.5C829.7 285.9 834.3 287.4 839.0 288.8C843.7 290.3 848.3 291.8 853.0 293.3C857.7 294.9 862.3 296.4 867.0 298.0C871.7 299.6 876.3 301.2 881.0 302.9C885.7 304.5 890.3 306.2 895.0 307.9C899.7 309.7 904.3 311.4 909.0 313.2C913.7 315.0 918.3 316.8 923.0 318.7C927.7 320.6 932.3 322.5 937.0 324.4C941.7 326.4 946.3 328.4 951.0 330.4C955.7 332.4 960.3 334.5 965.0 336.6C969.7 338.7 974.3 340.9 979.0 343.1C983.7 345.3 988.3 347.5 993.0 349.8C997.7 352.1 1002.3 354.5 1007.0 356.8C1011.7 359.2 1016.3 361.7 1021.0 364.2C1025.7 366.7 1030.3 369.2 1035.0 371.9C1039.7 374.6 1044.3 377.3 1049.0 380.1C1053.7 382.9 1058.3 385.8 1063.0 388.9C1067.7 391.9 1073.6 395.9 1077.0 398.3C1080.4 400.6 1082.5 402.2 1083.6 403.0" stroke="#00ffff" class="dash"/>
</g>
<text class="tick" x="112.2" y="847.3" text-anchor="middle" textLength="20.6" lengthAdjust="spacingAndGlyphs">0</text>
<text class="tick" x="289.0" y="847.3" text-anchor="middle" textLength="82.2" lengthAdjust="spacingAndGlyphs">1000</text>
<text class="tick" x="464.3" y="847.3" text-anchor="middle" textLength="82.2" lengthAdjust="spacingAndGlyphs">2000</text>
<text class="tick" x="639.6" y="847.3" text-anchor="middle" textLength="82.2" lengthAdjust="spacingAndGlyphs">3000</text>
<text class="tick" x="814.9" y="847.3" text-anchor="middle" textLength="82.2" lengthAdjust="spacingAndGlyphs">4000</text>
<text class="tick" x="990.2" y="847.3" text-anchor="middle" textLength="82.2" lengthAdjust="spacingAndGlyphs">5000</text>
<text class="tick" x="97.5" y="62.6" text-anchor="end" textLength="41.2" lengthAdjust="spacingAndGlyphs">35</text>
<text class="tick" x="97.5" y="188.0" text-anchor="end" textLength="41.2" lengthAdjust="spacingAndGlyphs">30</text>
<text class="tick" x="97.5" y="313.4" text-anchor="end" textLength="41.2" lengthAdjust="spacingAndGlyphs">25</text>
<text class="tick" x="97.5" y="438.8" text-anchor="end" textLength="41.2" lengthAdjust="spacingAndGlyphs">20</text>
<text class="tick" x="97.5" y="564.2" text-anchor="end" textLength="41.2" lengthAdjust="spacingAndGlyphs">15</text>
<text class="tick" x="97.5" y="689.6" text-anchor="end" textLength="41.2" lengthAdjust="spacingAndGlyphs">10</text>
<text class="tick" x="97.5" y="815.0" text-anchor="end" textLength="20.6" lengthAdjust="spacingAndGlyphs">5</text>
<text class="ttl cond" x="598.6" y="30.1" text-anchor="middle" textLength="746.5" lengthAdjust="spacingAndGlyphs">Along<tspan font-size="28" dy="-2.2">−</tspan><tspan dy="2.2">track wind component at 200 hPa</tspan></text>
<text class="lab" x="598.4" y="898.6" text-anchor="middle" textLength="830.4" lengthAdjust="spacingAndGlyphs">Distance from JFK along great circle to LHR (km)</text>
<text class="lab" transform="translate(30.2 425) rotate(-90)" text-anchor="middle" textLength="304.8" lengthAdjust="spacingAndGlyphs">Wind speed (m/s)</text>
<rect x="829" y="71" width="233.5" height="74.6" fill="#fff" stroke="#1a1a1a" stroke-width="2.1"/>
<line x1="839.8" y1="92.7" x2="909.9" y2="92.7" stroke="#000" stroke-width="4.6"/>
<line x1="839.8" y1="126.1" x2="909.9" y2="126.1" stroke="#000" stroke-width="4.6" stroke-dasharray="19.2 16 17.2 18"/>
<text class="leg" x="915.0" y="103.4" textLength="139.4" lengthAdjust="spacingAndGlyphs">CONTROL</text>
<text class="leg" x="915.6" y="135.8" textLength="99.5" lengthAdjust="spacingAndGlyphs">2<tspan font-size="27" stroke="none">×</tspan>CO2</text>
<text class="sea" x="233.2" y="337" fill="#ff0000" stroke="#ff0000" textLength="102" lengthAdjust="spacingAndGlyphs">Winter</text>
<text class="sea" x="321.6" y="424.8" fill="#0000ff" stroke="#0000ff" textLength="128.4" lengthAdjust="spacingAndGlyphs">Summer</text>
<text class="sea" x="672.6" y="236.7" fill="#00ffff" stroke="#00ffff" textLength="125" lengthAdjust="spacingAndGlyphs">Autumn</text>
<text class="sea" x="339" y="588.4" fill="#00ff00" stroke="#00ff00" textLength="101.5" lengthAdjust="spacingAndGlyphs">Spring</text>
</svg></body></html>
